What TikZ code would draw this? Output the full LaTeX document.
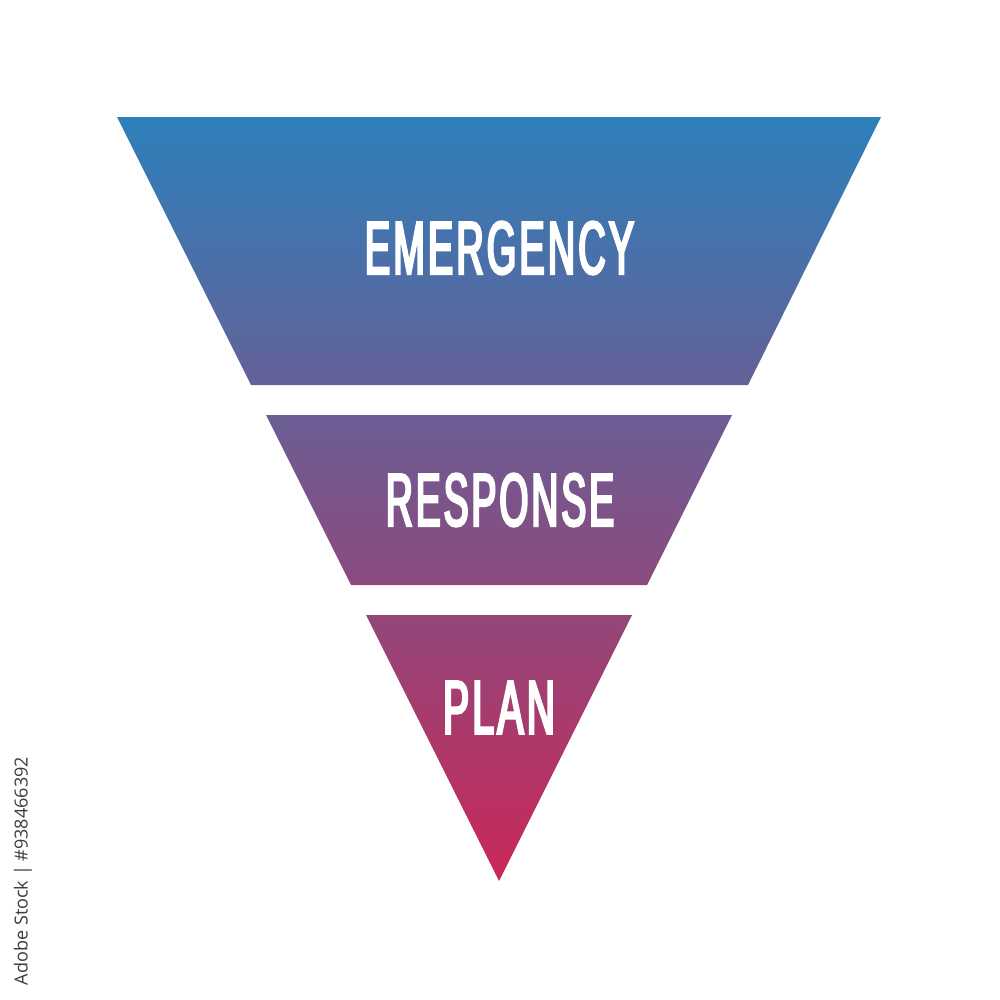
\documentclass[tikz,border=0pt]{standalone}
\usepackage{fontspec}
\setmainfont{Liberation Sans}
\newfontfamily\creditfont{Open Sans}
\newfontfamily\tierfont[FakeStretch=0.6,FakeBold=3.6,LetterSpace=5]{Liberation Sans}
\definecolor{gradtop}{HTML}{2D80BB}
\definecolor{gradbot}{HTML}{C92858}
\definecolor{creditgray}{HTML}{3C3C3C}
\tikzset{
  tierlabel/.style={inner sep=0pt,outer sep=0pt,text=white,font=\tierfont},
  creditlabel/.style={inner sep=0pt,outer sep=0pt,text=creditgray,rotate=90},
}
\newcommand{\fitlabel}[2]{\resizebox{#1cm}{0.52cm}{#2}}
\begin{document}
\begin{tikzpicture}[x=0.01cm,y=-0.01cm]
\useasboundingbox (0,0) rectangle (1000,1000);
\fill[white] (0,0) rectangle (1000,1000);
\begin{scope}
  \clip (117,117) -- (881,117) -- (748,385) -- (251,385) -- cycle
        (266,415) -- (732,415) -- (647,585) -- (351,585) -- cycle
        (366,615) -- (632,615) -- (499,881) -- cycle;
  \shade[top color=gradtop,bottom color=gradbot] (100,117) rectangle (900,881);
\end{scope}
\node[tierlabel] (emergency) at (499.5,248) {\fitlabel{2.69}{EMERGENCY}};
\node[tierlabel] (response) at (500,500) {\fitlabel{2.28}{RESPONSE}};
\node[tierlabel] (plan) at (499,707.5) {\fitlabel{1.12}{PLAN}};
\node[creditlabel] (credit) at (23,871) {\resizebox{2.28cm}{!}{\creditfont Adobe Stock | \#938466392}};
\end{tikzpicture}
\end{document}
